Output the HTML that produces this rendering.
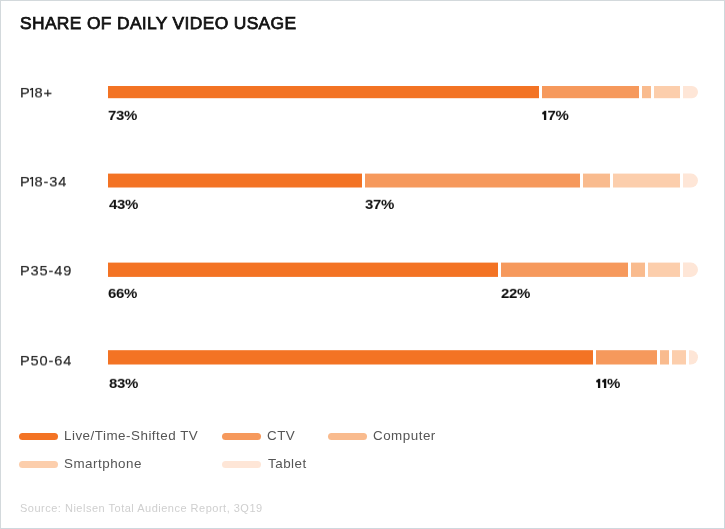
<!DOCTYPE html>
<html><head><meta charset="utf-8">
<style>
*{margin:0;padding:0;box-sizing:border-box}
html,body{width:725px;height:529px;overflow:hidden;background:#fff}
body{position:relative;font-family:"Liberation Sans",sans-serif;-webkit-font-smoothing:antialiased}
.frame{position:absolute;left:0;top:0;width:725px;height:529px;border:1px solid #d3d9dc;border-right-color:#ced8dc;border-bottom-color:#cfd8de}
.t{position:absolute;white-space:nowrap;line-height:1;will-change:transform}
.title{left:20px;top:15px;font-size:17.4px;font-weight:normal;-webkit-text-stroke:0.75px #111;color:#111;letter-spacing:0.36px}
.lab{left:20px;font-size:14.6px;color:#222;-webkit-text-stroke:0.15px #222;letter-spacing:0.85px;transform:scaleY(0.95);transform-origin:0 0}
.o{vertical-align:baseline;display:inline-block}
.pct{font-size:15px;font-weight:bold;color:#111;letter-spacing:-0.4px;transform:scaleY(0.92);transform-origin:0 0}
.bars{position:absolute;left:0;top:0}
.c1{background:#f37324}
.c2{background:#f6995c}
.c3{background:#f9bb8e}
.c4{background:#fcceac}
.c5{background:#fee6d7}
.leg{position:absolute;height:7px;width:39px;border-radius:4px}
.lt{font-size:13.4px;color:#555;letter-spacing:0.5px}
.src{left:20px;top:503px;font-size:11px;color:#cfcfcf;letter-spacing:0.5px}
</style></head><body>
<div class="frame"></div>
<svg class="bars" width="725" height="529" viewBox="0 0 725 529">
<rect x="108" y="86.0" width="431" height="12.2" fill="#f37324"/>
<rect x="542" y="86.0" width="97" height="12.2" fill="#f6995c"/>
<rect x="642" y="86.0" width="9" height="12.2" fill="#f9bb8e"/>
<rect x="654" y="86.0" width="26" height="12.2" fill="#fcceac"/>
<path d="M683 86.0H691.90A6.10 6.10 0 0 1 691.90 98.20H683Z" fill="#fee6d7"/>
<rect x="108" y="173.6" width="254" height="13.9" fill="#f37324"/>
<rect x="365" y="173.6" width="215" height="13.9" fill="#f6995c"/>
<rect x="583" y="173.6" width="27" height="13.9" fill="#f9bb8e"/>
<rect x="613" y="173.6" width="67" height="13.9" fill="#fcceac"/>
<path d="M683 173.6H691.05A6.95 6.95 0 0 1 691.05 187.50H683Z" fill="#fee6d7"/>
<rect x="108" y="262.6" width="390" height="14.3" fill="#f37324"/>
<rect x="501" y="262.6" width="127" height="14.3" fill="#f6995c"/>
<rect x="631" y="262.6" width="14" height="14.3" fill="#f9bb8e"/>
<rect x="648" y="262.6" width="32" height="14.3" fill="#fcceac"/>
<path d="M683 262.6H690.85A7.15 7.15 0 0 1 690.85 276.90H683Z" fill="#fee6d7"/>
<rect x="108" y="350.2" width="485" height="14.3" fill="#f37324"/>
<rect x="596" y="350.2" width="61" height="14.3" fill="#f6995c"/>
<rect x="660" y="350.2" width="9" height="14.3" fill="#f9bb8e"/>
<rect x="672" y="350.2" width="14" height="14.3" fill="#fcceac"/>
<path d="M689 350.2H690.85A7.15 7.15 0 0 1 690.85 364.50H689Z" fill="#fee6d7"/>
</svg>
<div class="t title">SHARE OF DAILY VIDEO USAGE</div>

<div class="t lab" style="top:85.5px">P<svg class="o" style="margin-left:-1.4px" width="5.4" height="10.3" viewBox="0 0 5.4 10.3"><path d="M1.1 1.9 L3.4 0.5 V10.3" fill="none" stroke="#222" stroke-width="1.35"/></svg>8+</div>
<div class="t pct" style="left:108px;top:107.6px">73%</div>
<div class="t pct" style="left:542px;top:107.6px"><svg class="o" width="5.5" height="10.3" viewBox="0 0 5.5 10.3"><path d="M0.4 3.4 L3.1 1 V10.3" fill="none" stroke="#111" stroke-width="2.3" stroke-linejoin="miter"/></svg>7%</div>

<div class="t lab" style="top:174.5px">P<svg class="o" style="margin-left:-1.4px" width="5.4" height="10.3" viewBox="0 0 5.4 10.3"><path d="M1.1 1.9 L3.4 0.5 V10.3" fill="none" stroke="#222" stroke-width="1.35"/></svg>8-34</div>
<div class="t pct" style="left:108.5px;top:197.4px">43%</div>
<div class="t pct" style="left:364.5px;top:197.4px">37%</div>

<div class="t lab" style="top:263.5px">P35-49</div>
<div class="t pct" style="left:108px;top:285.8px">66%</div>
<div class="t pct" style="left:500.5px;top:285.8px">22%</div>

<div class="t lab" style="top:353.5px">P50-64</div>
<div class="t pct" style="left:108.5px;top:376.3px">83%</div>
<div class="t pct" style="left:596px;top:376.3px"><svg class="o" width="5.5" height="10.3" viewBox="0 0 5.5 10.3"><path d="M0.4 3.4 L3.1 1 V10.3" fill="none" stroke="#111" stroke-width="2.3" stroke-linejoin="miter"/></svg><svg class="o" width="5.5" height="10.3" viewBox="0 0 5.5 10.3"><path d="M0.4 3.4 L3.1 1 V10.3" fill="none" stroke="#111" stroke-width="2.3" stroke-linejoin="miter"/></svg>%</div>

<div class="leg c1" style="left:19px;top:433px"></div>
<div class="t lt" style="left:64px;top:429px">Live/Time-Shifted TV</div>
<div class="leg c2" style="left:222px;top:433px"></div>
<div class="t lt" style="left:267px;top:429px">CTV</div>
<div class="leg c3" style="left:328px;top:433px"></div>
<div class="t lt" style="left:373px;top:429px">Computer</div>
<div class="leg c4" style="left:19px;top:461px"></div>
<div class="t lt" style="left:64px;top:457px">Smartphone</div>
<div class="leg c5" style="left:222px;top:461px"></div>
<div class="t lt" style="left:268px;top:457px">Tablet</div>

<div class="t src">Source: Nielsen Total Audience Report, 3Q19</div>
</body></html>
